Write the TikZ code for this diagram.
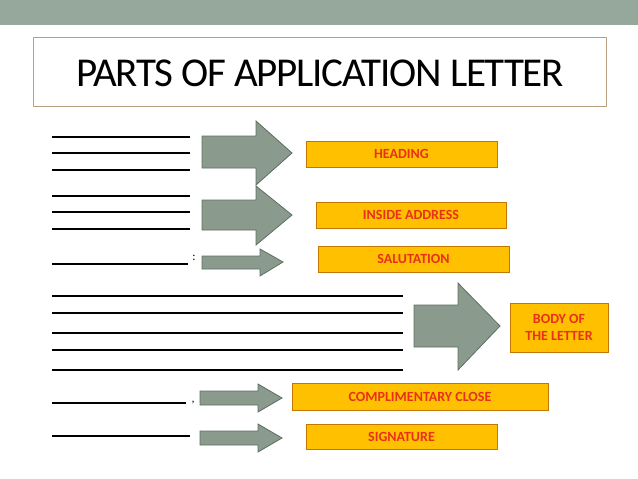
\documentclass[tikz,border=0pt]{standalone}
\usepackage{fontspec}
\setmainfont{Carlito}
\definecolor{bar}{HTML}{95A89B}
\definecolor{arr}{HTML}{8A9A8C}
\definecolor{arrb}{HTML}{5E6E62}
\definecolor{boxf}{HTML}{FFC000}
\definecolor{boxb}{HTML}{C07800}
\definecolor{lab}{HTML}{E8301A}
\definecolor{tb}{HTML}{B8A080}
\tikzset{
 lbl/.style={draw=boxb,fill=boxf,line width=0.8pt,text=lab,font=\bfseries\fontsize{14}{17}\selectfont,align=center,inner sep=0pt},
 ln/.style={line width=1.3pt,black},
 ar/.style={fill=arr,draw=arrb,line width=0.8pt}
}
\begin{document}
\begin{tikzpicture}[x=1pt,y=1pt]
\useasboundingbox (0,0) rectangle (638,-479);
\fill[bar] (0,0) rectangle (638,-25);
\draw[draw=tb,line width=1pt] (33,-37) rectangle (606,-106);
\node[anchor=center,inner sep=0pt] (title) at (320,-73) {\fontsize{41}{44}\selectfont\addfontfeatures{LetterSpace=-3} PARTS OF APPLICATION LETTER};
% lines
\foreach \y in {137,153,170,196,212,229}{\draw[ln] (52,-\y) -- (190,-\y);}
\draw[ln] (52,-264) -- (188,-264); \node[font=\large] at (194,-258) {:};
\foreach \y in {296,313,333,350,370}{\draw[ln] (52,-\y) -- (403,-\y);}
\draw[ln] (52,-403) -- (186,-403); \node[font=\large] at (193,-403) {,};
\draw[ln] (52,-436) -- (190,-436);
% arrows
\draw[ar] (202,-136) -- (256,-136) -- (256,-121) -- (292,-153) -- (256,-185) -- (256,-168) -- (202,-168) -- cycle;
\draw[ar] (202,-200) -- (256,-200) -- (256,-186) -- (292,-215) -- (256,-245) -- (256,-230) -- (202,-230) -- cycle;
\draw[ar] (202,-256) -- (260,-256) -- (260,-249) -- (283,-262) -- (260,-276) -- (260,-269) -- (202,-269) -- cycle;
\draw[ar] (414,-305) -- (458,-305) -- (458,-283) -- (500,-326) -- (458,-370) -- (458,-347) -- (414,-347) -- cycle;
\draw[ar] (200,-391) -- (258,-391) -- (258,-384) -- (282,-398) -- (258,-412) -- (258,-405) -- (200,-405) -- cycle;
\draw[ar] (200,-431) -- (258,-431) -- (258,-424) -- (282,-438) -- (258,-452) -- (258,-445) -- (200,-445) -- cycle;
% labels
\node[lbl,minimum width=191pt,minimum height=26pt] (h) at (401.5,-154) {HEADING};
\node[lbl,minimum width=190pt,minimum height=26pt] (ia) at (411,-215) {INSIDE ADDRESS};
\node[lbl,minimum width=191pt,minimum height=26pt] (s) at (413.5,-259) {SALUTATION};
\node[lbl,minimum width=98pt,minimum height=49pt] (b) at (559,-327.5) {BODY OF\\THE LETTER};
\node[lbl,minimum width=256pt,minimum height=27pt] (c) at (420,-396.5) {COMPLIMENTARY CLOSE};
\node[lbl,minimum width=191pt,minimum height=25pt] (sig) at (401.5,-436.5) {SIGNATURE};
\end{tikzpicture}
\end{document}
